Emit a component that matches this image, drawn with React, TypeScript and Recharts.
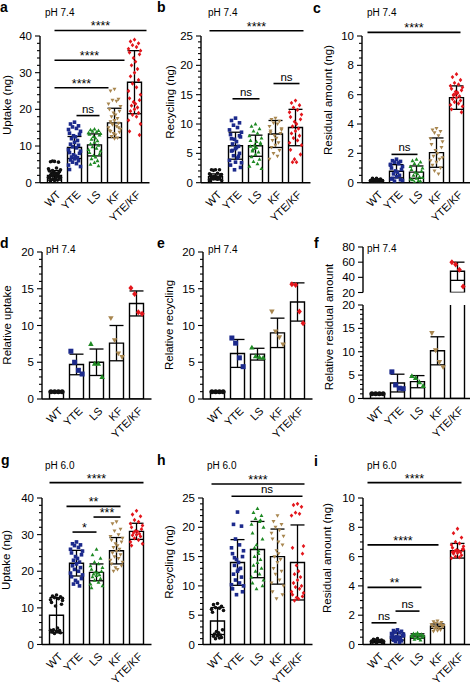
import React from 'react';
import { ComposedChart, Bar, Scatter, ErrorBar, XAxis, YAxis, ReferenceLine } from 'recharts';

const groups = ['WT', 'YTE', 'LS', 'KF', 'YTE/KF'];
const groupColors = ['#111111', '#1c2a8c', '#1f8a24', '#a8864f', '#e3161c'];

// a: uptake, pH 7.4 (ng)
const aMeans = [2.0, 9.6, 10.3, 16.3, 27.4];
const aSd = [1.3, 3.0, 3.0, 4.0, 8.6];
const aPoints = [
  [5.8, 5.7, 5.6, 5.9, 4.0, 3.8, 3.5, 3.2, 3.0, 2.8, 2.6, 2.5, 2.3, 2.2, 2.0, 1.9, 1.8, 1.6, 1.5, 1.4, 1.3, 1.2, 1.0, 0.9, 0.8, 0.7, 0.6, 0.5, 2.7, 3.3],
  [16.5, 16.0, 15.5, 15.2, 14.8, 14.5, 14.0, 13.5, 13.2, 12.8, 12.5, 12.0, 11.5, 11.0, 10.5, 10.2, 9.8, 9.5, 9.0, 8.6, 8.2, 8.0, 7.6, 7.2, 7.0, 6.8, 6.5, 6.2, 6.0, 5.6, 5.2, 4.8, 4.4, 3.6],
  [14.6, 14.4, 14.2, 14.0, 13.8, 13.6, 13.4, 13.2, 13.0, 12.6, 12.2, 11.8, 11.4, 11.0, 10.6, 10.2, 9.8, 9.4, 9.0, 8.6, 8.2, 7.8, 7.4, 7.0, 6.5, 6.0, 5.5, 5.0, 4.6],
  [25.5, 25.0, 22.8, 22.5, 22.2, 21.5, 20.8, 20.0, 19.5, 19.0, 18.5, 18.0, 17.5, 17.0, 16.6, 16.2, 15.8, 15.4, 15.0, 14.6, 14.2, 13.8, 13.4, 13.0, 12.6, 12.2, 12.0, 14.0, 15.0, 16.0],
  [39.0, 38.5, 38.0, 37.5, 37.0, 36.5, 36.0, 35.5, 35.0, 34.0, 33.0, 32.0, 31.0, 30.0, 29.0, 28.0, 27.0, 26.0, 25.0, 24.0, 23.0, 22.5, 22.0, 21.5, 21.0, 20.5, 20.0, 19.5, 19.0, 18.5, 18.0, 17.0, 16.0, 14.0, 13.0],
];

// b: recycling, pH 7.4 (ng)
const bMeans = [1.0, 6.3, 6.3, 8.3, 9.4];
const bSd = [0.5, 2.3, 1.8, 2.3, 3.1];
const bPoints = [
  [2.2, 2.2, 2.2, 2.1, 1.6, 1.5, 1.4, 1.3, 1.2, 1.1, 1.0, 1.0, 0.9, 0.9, 0.8, 0.8, 0.7, 0.6, 0.5, 0.4, 0.3],
  [11.0, 10.6, 10.2, 9.8, 9.4, 9.0, 8.6, 8.2, 7.8, 7.4, 7.0, 6.6, 6.2, 5.8, 5.4, 5.0, 4.6, 4.2, 3.8, 3.4, 3.0, 2.6, 2.2, 6.0, 5.5, 4.5, 3.5, 7.5, 8.0],
  [10.0, 9.6, 9.2, 8.8, 8.4, 8.0, 7.6, 7.2, 6.8, 6.4, 6.0, 5.6, 5.2, 4.8, 4.4, 4.0, 3.6, 3.2, 2.8, 2.4, 6.2, 6.6, 5.8, 7.0, 5.4],
  [11.0, 10.8, 10.5, 10.2, 10.0, 9.6, 9.2, 8.8, 8.4, 8.0, 7.6, 7.2, 6.8, 6.4, 6.0, 5.5, 5.0, 4.5, 4.0, 9.0, 8.5],
  [14.0, 13.6, 13.2, 12.8, 12.4, 12.0, 11.6, 11.2, 10.8, 10.4, 10.0, 9.6, 9.2, 8.8, 8.4, 8.0, 7.6, 7.2, 6.8, 6.4, 5.6, 4.8, 4.0, 3.5, 3.5],
];

// c: residual amount, pH 7.4 (ng)
const cMeans = [0.12, 0.78, 0.72, 2.05, 5.8];
const cSd = [0.08, 0.45, 0.42, 1.0, 0.8];
const cPoints = [
  [0.3, 0.3, 0.25, 0.2, 0.2, 0.15, 0.15, 0.1, 0.1, 0.05, 0.05, 0.0, 0.0, 0.1],
  [1.6, 1.5, 1.45, 1.4, 1.3, 1.2, 1.1, 1.0, 0.9, 0.8, 0.7, 0.6, 0.5, 0.4, 0.3, 0.2, 0.1, 1.35, 1.25, 0.15, 0.25],
  [1.6, 1.5, 1.4, 1.3, 1.2, 1.1, 1.0, 0.9, 0.8, 0.7, 0.6, 0.5, 0.4, 0.3, 0.2, 0.1, 0.05, 0.15, 0.25, 0.35],
  [3.7, 3.6, 3.5, 3.4, 3.2, 3.0, 2.8, 2.6, 2.4, 2.2, 2.0, 1.8, 1.6, 1.4, 1.2, 1.0, 0.8, 0.6, 1.5, 1.7],
  [7.4, 7.2, 7.0, 6.8, 6.7, 6.6, 6.5, 6.4, 6.3, 6.2, 6.1, 6.0, 5.9, 5.8, 5.7, 5.6, 5.5, 5.4, 5.3, 5.2, 5.0, 4.8, 6.05, 6.15, 5.95],
];

// d: relative uptake, pH 7.4
const dMeans = [1.0, 4.7, 5.0, 7.6, 13.0];
const dSd = [0.05, 1.4, 1.8, 2.4, 1.7];
const dPoints = [
  [1.0, 1.0, 1.0, 1.0],
  [6.5, 5.0, 3.9, 3.4],
  [7.5, 4.8, 4.8, 3.0],
  [11.0, 8.0, 6.2, 5.7],
  [15.1, 14.3, 11.8, 11.6],
];

// e: relative recycling, pH 7.4
const eMeans = [1.0, 6.2, 6.1, 9.0, 13.2];
const eSd = [0.05, 1.9, 0.8, 2.0, 2.6];
const ePoints = [
  [1.0, 1.0, 1.0, 1.0],
  [8.3, 7.6, 5.6, 4.4],
  [7.0, 5.8, 5.7, 5.6],
  [11.9, 9.2, 8.4, 7.4],
  [15.6, 15.5, 11.9, 10.3],
];

// f: relative residual amount, pH 7.4 (broken axis)
const fMeans = [1.0, 3.3, 3.6, 10.2, 48.0];
const fSd = [0.05, 1.9, 1.3, 3.0, 12.0];
const fPoints = [
  [1.0, 1.0, 1.0, 1.0],
  [5.7, 2.9, 2.2, 2.1],
  [4.8, 4.4, 3.5, 2.7],
  [14.0, 10.3, 7.8, 6.7],
  [60.0, 57.0, 50.0, 28.0],
];

// g: uptake, pH 6.0 (ng)
const gMeans = [8.0, 22.2, 19.7, 25.6, 30.9];
const gSd = [4.8, 3.5, 2.3, 3.6, 2.2];
const gPoints = [
  [13.5, 13.2, 13.0, 12.8, 12.5, 12.2, 12.0, 11.5, 11.0, 10.5, 4.5, 4.0, 3.8, 3.6, 3.4, 3.2, 3.0, 3.5, 3.9, 12.6],
  [28, 27.5, 27.2, 27, 26.5, 26, 25.5, 25, 24.5, 24, 23.5, 23, 22.5, 22, 21.5, 21, 20.5, 20, 19.5, 19, 18.5, 18, 17.5, 17, 16.5, 16],
  [26, 24.5, 23.5, 22.5, 22, 21.5, 21, 20.5, 20, 19.8, 19.5, 19.2, 19, 18.8, 18.5, 18, 17.5, 17, 16.5, 16, 15.5],
  [33.5, 33, 31.5, 31, 30, 29.5, 29, 28.5, 28, 27.5, 27, 26.5, 26, 25.5, 25, 24.5, 24, 23.5, 23, 22.5, 22, 21.5, 21, 20.5, 20],
  [36.5, 35.5, 35, 34, 33.5, 33, 32.5, 32, 31.5, 31, 30.8, 30.5, 30.2, 30, 29.8, 29.5, 29, 28.5, 28, 27.5, 27],
];

// h: recycling, pH 6.0 (ng)
const hMeans = [4.0, 14.0, 16.2, 15.0, 14.0];
const hSd = [2.3, 3.9, 4.8, 4.7, 6.4];
const hPoints = [
  [7, 6.8, 6.5, 6.3, 6.2, 6, 5.8, 5.5, 2.5, 2.2, 2, 1.8, 1.6, 1.5, 1.4, 1.2, 1.0, 1.1],
  [22.6, 20.5, 20.2, 18, 17, 16.5, 16, 15.5, 15, 14.5, 14, 13.5, 13, 12.5, 12, 11.5, 11, 10.5, 10.2, 10, 9.5, 9, 8.5, 12.8, 14.8],
  [23.2, 22.5, 22, 21.5, 21, 20.5, 20, 19, 18, 17, 16, 15, 14.5, 14, 13.5, 13, 12.5, 12, 11.5, 11, 10.5, 10, 9.5, 15.5, 16.5, 21.2],
  [22, 21, 20.5, 20, 19.5, 19, 18.5, 18, 17, 16, 15.5, 15, 14.5, 14, 13, 12.5, 12, 11, 10.5, 10, 9, 8.5, 7.8, 17.5],
  [24, 23.8, 23.5, 22.5, 22.3, 22, 16.8, 16.5, 15.5, 13.5, 12.5, 12, 11.5, 11, 10.5, 10, 9.8, 9.5, 9, 8.8, 8.5, 8.2, 8, 7.8, 7.5],
];

// i: residual amount, pH 6.0 (ng)
const iMeans = [0.22, 0.55, 0.58, 1.25, 6.4];
const iSd = [0.08, 0.25, 0.15, 0.15, 0.5];
const iPoints = [
  [0.4, 0.35, 0.3, 0.3, 0.25, 0.2, 0.2, 0.15, 0.1, 0.1, 0.25],
  [1.0, 0.95, 0.9, 0.85, 0.8, 0.75, 0.7, 0.65, 0.6, 0.55, 0.5, 0.45, 0.4, 0.35, 0.3, 0.25, 0.2, 0.15, 0.5, 0.6, 0.7],
  [0.8, 0.75, 0.7, 0.7, 0.65, 0.6, 0.6, 0.55, 0.5, 0.45, 0.4, 0.35, 0.3, 0.65],
  [1.6, 1.55, 1.5, 1.45, 1.4, 1.35, 1.3, 1.25, 1.2, 1.15, 1.1, 1.05, 1.0, 0.95, 0.9, 1.3, 1.2],
  [7.9, 7.6, 7.3, 7.0, 6.9, 6.8, 6.7, 6.6, 6.5, 6.45, 6.4, 6.35, 6.3, 6.25, 6.2, 6.1, 6.0, 5.95, 5.9, 6.5, 6.3],
];

// significance brackets: group positions (from/to), height in axis units, mark
const aSig = [
  { from: 0, to: 4.6, y: 41.5, text: '****' },
  { from: 0, to: 3.5, y: 33.4, text: '****' },
  { from: 0, to: 2.7, y: 25.9, text: '****' },
  { from: 1.1, to: 2.25, y: 18.3, text: 'ns' },
];
const bSig = [
  { from: -0.3, to: 4.4, y: 25.9, text: '****' },
  { from: 0.85, to: 2.2, y: 14.3, text: 'ns' },
  { from: 2.9, to: 4.2, y: 16.9, text: 'ns' },
];
const cSig = [
  { from: -0.45, to: 4.2, y: 10.25, text: '****' },
  { from: 0.75, to: 2.05, y: 1.93, text: 'ns' },
];
const gSig = [
  { from: -0.35, to: 4.35, y: 44.2, text: '****' },
  { from: 0.5, to: 3.2, y: 37.7, text: '**' },
  { from: 1.85, to: 3.2, y: 34.8, text: '***' },
  { from: 0.8, to: 2.0, y: 30.7, text: '*' },
];
const hSig = [
  { from: -0.3, to: 4.35, y: 27.4, text: '****' },
  { from: 0.7, to: 4.25, y: 25.3, text: 'ns' },
];
const iSig = [
  { from: -0.5, to: 4.2, y: 11.05, text: '****' },
  { from: -0.5, to: 3.05, y: 6.8, text: '****' },
  { from: -0.5, to: 2.2, y: 3.9, text: '**' },
  { from: -0.3, to: 0.95, y: 1.48, text: 'ns' },
  { from: 0.9, to: 2.1, y: 2.28, text: 'ns' },
];

type Sig = { from: number; to: number; y: number; text: string };
type PanelSpec = {
  x0: number;
  yTop: number;
  yZero: number;
  domain: [number, number];
  major: number[];
  minorStep: number;
  means: number[];
  sd: number[];
  points: number[][];
  sig: Sig[];
  mark: number;
  mt?: number;
  hideX?: boolean;
  skip?: number[];
};

const YW = 40;
const MT = 40;
const MR = 6;
const XH = 42;
const X_LO = -0.725;
const X_HI = 4.75;
const PW = 109.5;
const AXIS = { stroke: '#000', strokeWidth: 1.4 };

const SWARM = [0, -4, 4, -2, 2, -6, 6, -5, 5, -1, 1, -3, 3];
function spread(j: number, n: number, size: number) {
  if (n <= 4) return (j - (n - 1) / 2) * size * 0.75;
  return SWARM[j % SWARM.length];
}

function Dot(props: any) {
  const { cx, cy, payload, gi, size } = props;
  if (cx == null || cy == null) return null;
  const x = cx + spread(payload.j, payload.n, size);
  const r = size / 2;
  const c = groupColors[gi];
  if (gi === 0) return <circle cx={x} cy={cy} r={r} fill={c} />;
  if (gi === 1) return <rect x={x - r} y={cy - r} width={size} height={size} fill={c} />;
  if (gi === 2)
    return <polygon points={`${x},${cy - r * 1.15} ${x + r * 1.1},${cy + r * 0.8} ${x - r * 1.1},${cy + r * 0.8}`} fill={c} />;
  if (gi === 3)
    return <polygon points={`${x},${cy + r * 1.15} ${x + r * 1.1},${cy - r * 0.8} ${x - r * 1.1},${cy - r * 0.8}`} fill={c} />;
  return <polygon points={`${x},${cy - r * 1.2} ${x + r},${cy} ${x},${cy + r * 1.2} ${x - r},${cy}`} fill={c} />;
}

function GroupTick(props: any) {
  const { x, y, payload } = props;
  const ax = x + 4;
  const ay = y + 10;
  return (
    <text x={ax} y={ay} dy="0.35em" textAnchor="end" fontSize={11} fill="#000" transform={`rotate(-45 ${ax} ${ay})`}>
      {groups[payload.value]}
    </text>
  );
}

function ValueTick(props: any) {
  const { x, y, payload, major } = props;
  const isMajor = major.some((m: number) => Math.abs(m - payload.value) < 1e-6);
  return (
    <g>
      <line x1={x - (isMajor ? 5 : 3)} x2={x} y1={y} y2={y} stroke="#000" strokeWidth={1.1} />
      {isMajor && (
        <text x={x - 8} y={y} dy="0.35em" textAnchor="end" fontSize={11.5} fill="#000">
          {payload.value}
        </text>
      )}
    </g>
  );
}

function Panel({ s }: { s: PanelSpec }) {
  const mt = s.mt ?? MT;
  const ph = s.yZero - s.yTop;
  const mb = s.hideX ? 8 : 0;
  const xh = s.hideX ? 0 : XH;
  const skip = s.skip ?? [];
  const bars = groups.map((g, i) => ({ x: i, mean: skip.includes(i) && s.hideX ? null : s.means[i] }));
  const errs = groups
    .map((g, i) => ({ x: i, y: s.means[i], sd: s.sd[i] }))
    .filter((d) => !skip.includes(d.x));
  const ticks: number[] = [];
  const steps = Math.round((s.domain[1] - s.domain[0]) / s.minorStep);
  for (let k = 0; k <= steps; k++) ticks.push(+(s.domain[0] + k * s.minorStep).toFixed(3));

  return (
    <div style={{ position: 'absolute', left: s.x0 - YW, top: s.yTop - mt }}>
      <ComposedChart width={YW + PW + MR} height={mt + ph + xh + mb} data={bars} margin={{ top: mt, right: MR, bottom: mb, left: 0 }}>
        <XAxis
          type="number"
          dataKey="x"
          domain={[X_LO, X_HI]}
          ticks={[0, 1, 2, 3, 4]}
          allowDataOverflow
          hide={s.hideX}
          height={XH}
          tick={<GroupTick />}
          tickLine={false}
          tickSize={0}
          tickMargin={0}
          axisLine={AXIS}
          interval={0}
        />
        <YAxis
          type="number"
          domain={s.domain}
          ticks={ticks}
          allowDataOverflow
          width={YW}
          tick={<ValueTick major={s.major} />}
          tickLine={false}
          tickSize={0}
          tickMargin={0}
          axisLine={AXIS}
          interval={0}
        />
        <Bar dataKey="mean" fill="#fff" stroke="#000" strokeWidth={1.4} barSize={14} isAnimationActive={false} />
        {s.points.map((vals, gi) =>
          skip.includes(gi) ? null : (
            <Scatter
              key={gi}
              data={vals.map((v, j) => ({ x: gi, y: v, j, n: vals.length }))}
              dataKey="y"
              fill={groupColors[gi]}
              shape={(p: any) => <Dot {...p} gi={gi} size={s.mark} />}
              isAnimationActive={false}
            />
          )
        )}
        <Scatter data={errs} dataKey="y" shape={() => <g />} isAnimationActive={false}>
          <ErrorBar dataKey="sd" direction="y" width={7} stroke="#000" strokeWidth={1.3} />
        </Scatter>
        {s.sig.map((g, k) => (
          <ReferenceLine
            key={k}
            segment={[
              { x: g.from, y: g.y },
              { x: g.to, y: g.y },
            ]}
            stroke="#000"
            strokeWidth={1.6}
            ifOverflow="visible"
            label={{
              value: g.text,
              position: 'top',
              offset: g.text === 'ns' ? 3 : 0,
              fontSize: g.text === 'ns' ? 11.5 : 12.5,
              fill: '#000',
            }}
          />
        ))}
      </ComposedChart>
    </div>
  );
}

const five = (top: number) => [0, top * 0.2, top * 0.4, top * 0.6, top * 0.8, top].map((v) => +v.toFixed(3));

const panels: PanelSpec[] = [
  { x0: 40, yTop: 36, yZero: 182.7, domain: [0, 40], major: [0, 10, 20, 30, 40], minorStep: 2, means: aMeans, sd: aSd, points: aPoints, sig: aSig, mark: 3.6 },
  { x0: 201, yTop: 36, yZero: 182.7, domain: [0, 25], major: five(25), minorStep: 1, means: bMeans, sd: bSd, points: bPoints, sig: bSig, mark: 3.6 },
  { x0: 362, yTop: 36, yZero: 182.7, domain: [0, 10], major: five(10), minorStep: 0.5, means: cMeans, sd: cSd, points: cPoints, sig: cSig, mark: 3.6 },
  { x0: 42, yTop: 252, yZero: 399, domain: [0, 20], major: [0, 5, 10, 15, 20], minorStep: 1, means: dMeans, sd: dSd, points: dPoints, sig: [], mark: 5 },
  { x0: 203, yTop: 252, yZero: 399, domain: [0, 20], major: [0, 5, 10, 15, 20], minorStep: 1, means: eMeans, sd: eSd, points: ePoints, sig: [], mark: 5 },
  { x0: 363, yTop: 247, yZero: 292.5, domain: [20, 80], major: [20, 40, 60, 80], minorStep: 20, means: fMeans, sd: fSd, points: fPoints, sig: [], mark: 5, mt: 10, hideX: true, skip: [0, 1, 2, 3] },
  { x0: 363, yTop: 305, yZero: 398.5, domain: [0, 20], major: [0, 5, 10, 15, 20], minorStep: 1, means: fMeans, sd: fSd, points: fPoints, sig: [], mark: 5, mt: 6, skip: [4] },
  { x0: 42, yTop: 497.5, yZero: 644, domain: [0, 40], major: [0, 10, 20, 30, 40], minorStep: 2, means: gMeans, sd: gSd, points: gPoints, sig: gSig, mark: 3.6 },
  { x0: 203, yTop: 497.5, yZero: 644, domain: [0, 25], major: five(25), minorStep: 1, means: hMeans, sd: hSd, points: hPoints, sig: hSig, mark: 3.6 },
  { x0: 363, yTop: 497.5, yZero: 644, domain: [0, 10], major: five(10), minorStep: 0.5, means: iMeans, sd: iSd, points: iPoints, sig: iSig, mark: 3.6 },
];

const letters = [
  { t: 'a', x: 0, y: 12 }, { t: 'b', x: 157, y: 12 }, { t: 'c', x: 313, y: 13 },
  { t: 'd', x: 0, y: 248 }, { t: 'e', x: 157, y: 248 }, { t: 'f', x: 314, y: 248 },
  { t: 'g', x: 1, y: 465 }, { t: 'h', x: 157, y: 465 }, { t: 'i', x: 314, y: 466 },
];

const phLabels = [
  { t: 'pH 7.4', x: 45, y: 16 }, { t: 'pH 7.4', x: 208, y: 16 }, { t: 'pH 7.4', x: 367, y: 16 },
  { t: 'pH 7.4', x: 46, y: 253 }, { t: 'pH 7.4', x: 208, y: 253 }, { t: 'pH 7.4', x: 367, y: 252 },
  { t: 'pH 6.0', x: 45, y: 469 }, { t: 'pH 6.0', x: 207, y: 469 }, { t: 'pH 6.0', x: 367, y: 469 },
];

const yTitles = [
  { t: 'Uptake (ng)', x: 8, y: 105 }, { t: 'Recycling (ng)', x: 171, y: 102 }, { t: 'Residual amount (ng)', x: 329, y: 100 },
  { t: 'Relative uptake', x: 8, y: 325 }, { t: 'Relative recycling', x: 170, y: 325 }, { t: 'Relative residual amount', x: 330, y: 327 },
  { t: 'Uptake (ng)', x: 7, y: 560 }, { t: 'Recycling (ng)', x: 170, y: 562 }, { t: 'Residual amount (ng)', x: 328, y: 558 },
];

export default function App() {
  return (
    <div
      style={{
        position: 'absolute',
        left: 0,
        top: 0,
        width: 470,
        height: 685,
        background: '#fff',
        overflow: 'hidden',
        fontFamily: '"Liberation Sans", Arial, sans-serif',
        color: '#000',
      }}
    >
      {panels.map((s, k) => (
        <Panel key={k} s={s} />
      ))}
      {letters.map((l) => (
        <div key={l.t} style={{ position: 'absolute', left: l.x, top: l.y - 11.9, fontSize: 14, fontWeight: 'bold', lineHeight: 1 }}>
          {l.t}
        </div>
      ))}
      {phLabels.map((l, k) => (
        <div key={k} style={{ position: 'absolute', left: l.x, top: l.y - 8.5, fontSize: 10, lineHeight: 1, whiteSpace: 'nowrap' }}>
          {l.t}
        </div>
      ))}
      {yTitles.map((l, k) => (
        <div
          key={k}
          style={{
            position: 'absolute',
            left: l.x,
            top: l.y,
            fontSize: 11.5,
            lineHeight: 1,
            whiteSpace: 'nowrap',
            transform: 'translate(-50%, -50%) rotate(-90deg)',
          }}
        >
          {l.t}
        </div>
      ))}
    </div>
  );
}
